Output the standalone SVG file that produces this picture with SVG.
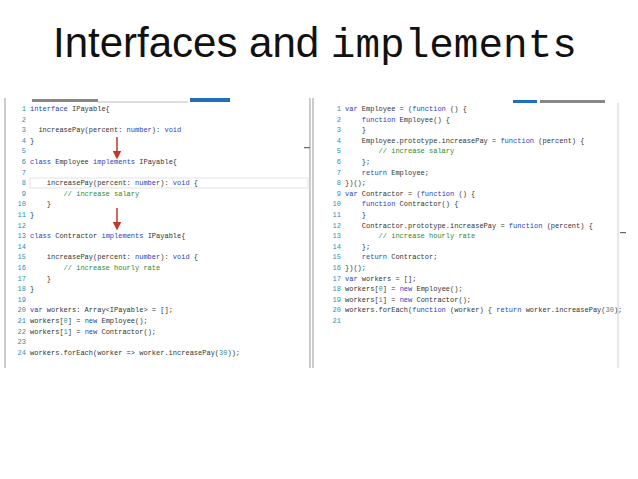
<svg xmlns="http://www.w3.org/2000/svg" width="638" height="479" viewBox="0 0 638 479" xml:space="preserve">
<style>
.c{font-family:"Liberation Mono",monospace;font-size:7px;fill:#333;white-space:pre}
.n{fill:#2b91af;text-anchor:end}
.k{fill:#1f3fc4}
.g{fill:#2a8a2a}
.b{fill:#2f8f8f}
</style>
<defs><marker id="ah" markerWidth="6" markerHeight="6" refX="3" refY="3" orient="auto"><path d="M0,0 L6,3 L0,6 z" fill="#c0392b"/></marker></defs>
<rect width="638" height="479" fill="#fff"/>
<text x="53" y="57" font-family="Liberation Sans,Arial,sans-serif" font-size="42" fill="#111">Interfaces and <tspan font-family="Liberation Mono,monospace" font-size="41">implements</tspan></text>
<g id="left-panel">
<line x1="5" y1="98" x2="5" y2="368" stroke="#999"/>
<line x1="310" y1="98" x2="310" y2="368" stroke="#999"/>
<rect x="32" y="99" width="66" height="3" fill="#888"/>
<line x1="98" y1="102" x2="188" y2="102" stroke="#bbb"/>
<rect x="190" y="98" width="40" height="4" fill="#1e6fc0"/>
<rect x="304" y="147" width="6" height="1.2" fill="#666"/>
<rect x="30" y="178" width="278" height="10" fill="none" stroke="#ddd" stroke-width="0.8"/>
<g class="c">
<text x="26" y="111" class="c n">1</text><text x="30" y="111"><tspan class="k">interface</tspan> IPayable{</text>
<text x="26" y="121.6" class="c n">2</text>
<text x="26" y="132.2" class="c n">3</text><text x="38.4" y="132.2">increasePay(percent: <tspan class="k">number</tspan>): <tspan class="k">void</tspan></text>
<text x="26" y="142.8" class="c n">4</text><text x="30" y="142.8">}</text>
<text x="26" y="153.4" class="c n">5</text>
<text x="26" y="164" class="c n">6</text><text x="30" y="164"><tspan class="k">class</tspan> Employee <tspan class="k">implements</tspan> IPayable{</text>
<text x="26" y="174.6" class="c n">7</text>
<text x="26" y="185.2" class="c n">8</text><text x="46.8" y="185.2">increasePay(percent: <tspan class="k">number</tspan>): <tspan class="k">void</tspan> {</text>
<text x="26" y="195.8" class="c n">9</text><text x="63.6" y="195.8" class="c g">// increase salary</text>
<text x="26" y="206.4" class="c n">10</text><text x="46.8" y="206.4">}</text>
<text x="26" y="217" class="c n">11</text><text x="30" y="217">}</text>
<text x="26" y="227.6" class="c n">12</text>
<text x="26" y="238.2" class="c n">13</text><text x="30" y="238.2"><tspan class="k">class</tspan> Contractor <tspan class="k">implements</tspan> IPayable{</text>
<text x="26" y="248.8" class="c n">14</text>
<text x="26" y="259.4" class="c n">15</text><text x="46.8" y="259.4">increasePay(percent: <tspan class="k">number</tspan>): <tspan class="k">void</tspan> {</text>
<text x="26" y="270" class="c n">16</text><text x="63.6" y="270" class="c g">// increase hourly rate</text>
<text x="26" y="280.6" class="c n">17</text><text x="46.8" y="280.6">}</text>
<text x="26" y="291.2" class="c n">18</text><text x="30" y="291.2">}</text>
<text x="26" y="301.8" class="c n">19</text>
<text x="26" y="312.4" class="c n">20</text><text x="30" y="312.4"><tspan class="k">var</tspan> workers: Array&lt;IPayable&gt; = [];</text>
<text x="26" y="323" class="c n">21</text><text x="30" y="323">workers[<tspan class="b">0</tspan>] = <tspan class="k">new</tspan> Employee();</text>
<text x="26" y="333.6" class="c n">22</text><text x="30" y="333.6">workers[<tspan class="b">1</tspan>] = <tspan class="k">new</tspan> Contractor();</text>
<text x="26" y="344.2" class="c n">23</text>
<text x="26" y="354.8" class="c n">24</text><text x="30" y="354.8">workers.forEach(worker =&gt; worker.increasePay(<tspan class="b">30</tspan>));</text>
</g>
</g>
<g id="right-panel">
<line x1="313" y1="98" x2="313" y2="368" stroke="#999"/>
<line x1="618" y1="103" x2="618" y2="368" stroke="#ccc"/>
<rect x="513" y="100" width="24" height="3" fill="#1e6fc0"/>
<rect x="540" y="100" width="65" height="3" fill="#888"/>
<rect x="620" y="232" width="6" height="1.2" fill="#666"/>
<g class="c">
<text x="341" y="111" class="c n">1</text><text x="345" y="111"><tspan class="k">var</tspan> Employee = (<tspan class="k">function</tspan> () {</text>
<text x="341" y="121.6" class="c n">2</text><text x="361.8" y="121.6"><tspan class="k">function</tspan> Employee() {</text>
<text x="341" y="132.2" class="c n">3</text><text x="361.8" y="132.2">}</text>
<text x="341" y="142.8" class="c n">4</text><text x="361.8" y="142.8">Employee.prototype.increasePay = <tspan class="k">function</tspan> (percent) {</text>
<text x="341" y="153.4" class="c n">5</text><text x="378.6" y="153.4" class="c g">// increase salary</text>
<text x="341" y="164" class="c n">6</text><text x="361.8" y="164">};</text>
<text x="341" y="174.6" class="c n">7</text><text x="361.8" y="174.6"><tspan class="k">return</tspan> Employee;</text>
<text x="341" y="185.2" class="c n">8</text><text x="345" y="185.2">})();</text>
<text x="341" y="195.8" class="c n">9</text><text x="345" y="195.8"><tspan class="k">var</tspan> Contractor = (<tspan class="k">function</tspan> () {</text>
<text x="341" y="206.4" class="c n">10</text><text x="361.8" y="206.4"><tspan class="k">function</tspan> Contractor() {</text>
<text x="341" y="217" class="c n">11</text><text x="361.8" y="217">}</text>
<text x="341" y="227.6" class="c n">12</text><text x="361.8" y="227.6">Contractor.prototype.increasePay = <tspan class="k">function</tspan> (percent) {</text>
<text x="341" y="238.2" class="c n">13</text><text x="378.6" y="238.2" class="c g">// increase hourly rate</text>
<text x="341" y="248.8" class="c n">14</text><text x="361.8" y="248.8">};</text>
<text x="341" y="259.4" class="c n">15</text><text x="361.8" y="259.4"><tspan class="k">return</tspan> Contractor;</text>
<text x="341" y="270" class="c n">16</text><text x="345" y="270">})();</text>
<text x="341" y="280.6" class="c n">17</text><text x="345" y="280.6"><tspan class="k">var</tspan> workers = [];</text>
<text x="341" y="291.2" class="c n">18</text><text x="345" y="291.2">workers[<tspan class="b">0</tspan>] = <tspan class="k">new</tspan> Employee();</text>
<text x="341" y="301.8" class="c n">19</text><text x="345" y="301.8">workers[<tspan class="b">1</tspan>] = <tspan class="k">new</tspan> Contractor();</text>
<text x="341" y="312.4" class="c n">20</text><text x="345" y="312.4">workers.forEach(<tspan class="k">function</tspan> (worker) { <tspan class="k">return</tspan> worker.increasePay(<tspan class="b">30</tspan>);</text>
<text x="341" y="323" class="c n">21</text>
</g>
</g>
<g id="connectors" stroke="#c0392b" stroke-width="1.5">
<line x1="117" y1="137" x2="117" y2="155" marker-end="url(#ah)"/>
<line x1="117" y1="208" x2="117" y2="226" marker-end="url(#ah)"/>
</g>
</svg>
